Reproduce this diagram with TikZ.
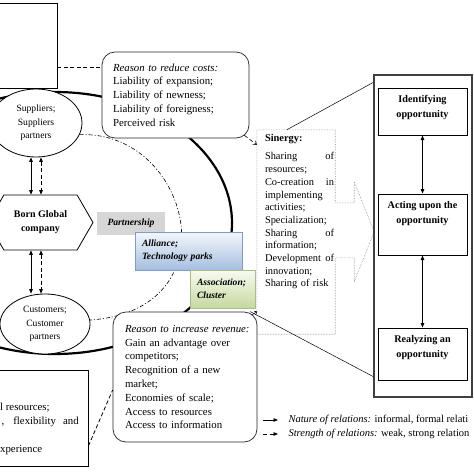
\documentclass[tikz,border=0pt]{standalone}
\usepackage{fontspec}
\setmainfont{Liberation Serif}
\usetikzlibrary{arrows.meta,shapes.geometric,shapes.symbols,positioning}

\definecolor{alliancetop}{HTML}{F4F7FC}
\definecolor{alliancebot}{HTML}{A5BEDF}
\definecolor{allianceline}{HTML}{7D9CC8}
\definecolor{clustertop}{HTML}{F8FBF2}
\definecolor{clusterbot}{HTML}{C5D9A0}
\definecolor{clusterline}{HTML}{A9BE86}

\tikzset{
    txt/.style={font=\fontsize{10.8}{13.8}\selectfont},
    reason/.style={draw=black!85, line width=0.7pt, rounded corners=13pt, fill=white,
        align=left, inner xsep=11pt, inner ysep=0pt, txt},
    actor/.style={ellipse, draw, line width=0.8pt, fill=white, inner sep=0pt,
        align=center, font=\fontsize{9.6}{13.5}\selectfont},
    hexa/.style={signal, signal to=east and west, signal pointer angle=120, draw,
        line width=0.8pt, fill=white, inner sep=0pt, minimum width=105pt, minimum height=55pt,
        align=center, font=\fontsize{10}{14}\selectfont\bfseries},
    cut/.style={draw, line width=0.8pt, inner sep=0pt},
    link/.style={inner sep=0pt, font=\fontsize{9.6}{13}\selectfont\bfseries\itshape},
    syn/.style={draw=black!45, line width=0.6pt, densely dotted},
    oppbox/.style={draw, line width=1pt, minimum width=89pt, inner sep=0pt},
    opplabel/.style={anchor=north, yshift=-4pt, align=center,
        font=\fontsize{10.2}{15}\selectfont\bfseries},
    weak/.style={dash pattern=on 4pt off 2.5pt},
    legtxt/.style={anchor=west, font=\fontsize{10.5}{12}\selectfont}
}

\begin{document}
\begin{tikzpicture}[x=1pt, y=-1pt, >={Triangle[length=4.5pt,width=3.6pt]}]
    % picture frame (the figure is cut off at its edges)
    \useasboundingbox (0,0) rectangle (474,474);
    \clip (0,0) rectangle (474,474);

    % Network border
    \draw[line width=2.2pt] (55,223) ellipse [x radius=177pt, y radius=131pt];

    % Frames cut off at the left
    \node[cut, minimum width=67pt, minimum height=85pt] (upper) at (23.5,45.5) {};
    \node[cut, minimum width=98pt, minimum height=96pt] (lower) at (39,418) {};
    \node[txt, anchor=base west, inner sep=0pt] (low1) at (0,410) {l resources;};
    \node[txt, anchor=base west, inner sep=0pt] (low2) at (1.5,424) {\makebox[77pt][s]{,\hspace{9pt}flexibility\hfill and}};
    \node[txt, anchor=base west, inner sep=0pt] (low3) at (0,452) {xperience};

    % Actors
    \node[actor, minimum width=92pt, minimum height=68pt] (sup) at (36,123) {Suppliers;\\Suppliers\\partners};
    \node[hexa] (bg) at (40.5,222.5) {Born Global\\company};
    \node[actor, minimum width=90pt, minimum height=60pt] (cust) at (45,324) {Customers;\\Customer\\partners};

    % Relations between the actors
    \coordinate (solid) at (31,0);
    \coordinate (weakx) at (41,0);
    \draw[<->, line width=0.7pt] (solid |- sup.south) -- (solid |- bg.north);
    \draw[<->, line width=0.7pt, weak] (weakx |- sup.south) -- (weakx |- bg.north);
    \draw[<->, line width=0.7pt] (solid |- bg.south) -- (solid |- cust.north);
    \draw[<->, line width=0.7pt, weak] (weakx |- bg.south) -- (weakx |- cust.north);

    % Inner border of cooperation
    \draw[line width=0.6pt, dash pattern=on 4pt off 2pt on 1pt off 2pt]
        (sup.345) .. controls (190,130) and (235,310) .. (cust.5);

    % Reasons
    \node[reason, text width=125pt, minimum height=86pt] (costs) at (175.5,95)
        {\textit{Reason to reduce costs:}\\ Liability of expansion;\\ Liability of newness;\\
         Liability of foreigness;\\ Perceived risk};
    \node[reason, text width=120pt, inner xsep=12pt, minimum height=130pt] (rev) at (185,377)
        {\mbox{\textit{Reason to increase revenue:}}\\ Gain an advantage over\\ competitors;\\
         Recognition of a new\\ market;\\ Economies of scale;\\ Access to resources\\
         Access to information};
    \draw[line width=0.8pt, weak] ([yshift=-21.5pt]upper.east) -- ([yshift=28pt]costs.west);
    \draw[line width=0.8pt, weak] ([yshift=-28pt]lower.east) -- ([yshift=-13pt]rev.west);

    % Forms of cooperation
    \node[link, fill=black!16, minimum width=68pt, minimum height=23pt] (part) at (131,223.5) {Partnership};
    \node[link, top color=alliancetop, bottom color=alliancebot, draw=allianceline, line width=0.6pt,
        text width=93pt, inner xsep=7pt, minimum height=38pt, align=left] (alli) at (188.5,251)
        {Alliance;\\Technology parks};
    \node[link, top color=clustertop, bottom color=clusterbot, draw=clusterline, line width=0.6pt,
        text width=51pt, inner xsep=7pt, minimum height=38pt, align=left] (clus) at (222.5,289)
        {Association;\\Cluster};

    % Sinergy
    \node[minimum width=78pt, minimum height=204pt, inner sep=0pt] (sin) at (296,232) {};
    \draw[syn] (sin.north west) -- (sin.north east) -- ([yshift=-73pt]sin.north east)
        -- ++(19,0) -- ++(0,-21) -- ++(20,50) -- ++(-20,50) -- ++(0,-24) -- ++(-19,0)
        -- (sin.south east) -- (sin.south west) -- cycle;
    \node[anchor=north west, inner sep=0pt, text width=69pt, align=left,
        font=\fontsize{10.4}{12.7}\selectfont] (sintxt) at ([xshift=8pt,yshift=-4pt]sin.north west)
        {\textbf{Sinergy:}\\[6pt] Sharing \hfill of\\ resources;\\ Co-creation \hfill in\\
         implementing\\ activities;\\ Specialization;\\ Sharing \hfill of\\ information;\\
         Development \hfill of\\ innovation;\\ Sharing of risk};
    \draw[weak, line width=0.6pt, -{Straight Barb[length=3pt,width=5pt]}]
        ([xshift=-5pt,yshift=3pt]costs.south east) -- ([yshift=-15pt]sin.north west);
    \draw[weak, line width=0.6pt, -{Straight Barb[length=2pt,width=3pt]}]
        ([xshift=-5pt,yshift=-3pt]rev.north east) -- ([xshift=2pt,yshift=-3pt]clus.south east);

    % Entrepreneurial opportunity
    \node[draw=black!75, line width=1.3pt, minimum width=98pt, minimum height=322pt, inner sep=0pt]
        (opp) at (423,236) {};
    \node[oppbox, minimum height=47pt] (idf) at (422.5,111.5) {};
    \node[opplabel] at (idf.north) {Identifying\\opportunity};
    \node[oppbox, minimum height=61pt] (act) at (422.5,224.5) {};
    \node[opplabel] at (act.north) {Acting upon the\\opportunity};
    \node[oppbox, minimum height=52pt] (rea) at (422.5,354) {};
    \node[opplabel] at (rea.north) {Realyzing an\\opportunity};
    \draw[<->, line width=0.8pt] (idf) -- (act);
    \draw[<->, line width=0.8pt] (act) -- (rea);
    \draw[line width=0.5pt] ([xshift=30pt]sin.north west) -- ([yshift=-8pt]opp.north west);
    \draw[line width=0.5pt] ([xshift=-7pt]rev.north east) -- ([yshift=21pt]opp.south west);

    % Legend
    \node[legtxt] (nat) at (285,420) {\textit{Nature of relations:} informal, formal relati};
    \node[legtxt] (str) at (285,434) {\textit{Strength of relations:} weak, strong relation};
    \draw[->, line width=0.8pt] ([xshift=-22pt]nat.west) -- ([xshift=-7pt]nat.west);
    \draw[->, line width=0.8pt, weak] ([xshift=-22pt]str.west) -- ([xshift=-7pt]str.west);
\end{tikzpicture}
\end{document}
